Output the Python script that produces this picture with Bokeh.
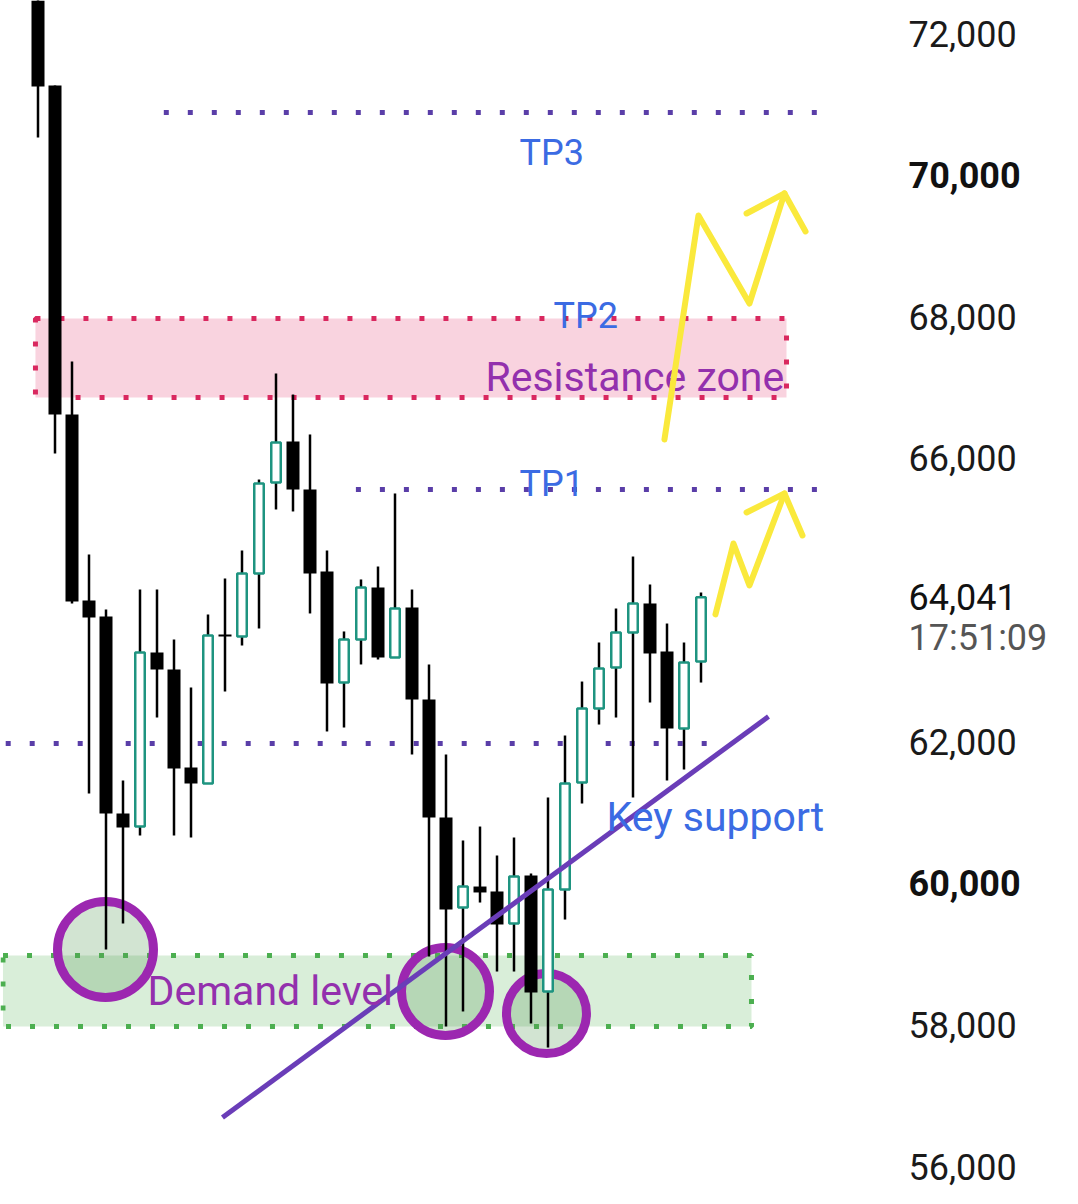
from bokeh.plotting import figure
from bokeh.models import Range1d
from bokeh.core.properties import value
from bokeh.embed import file_html
from bokeh.resources import INLINE
import numpy as np

# ---- data ----
opens = [72900, 71266, 66621, 63995, 63769, 60988, 60804, 63261, 63021, 61637,
         61412, 63515, 63487, 64376, 65661, 66240, 65562, 64405, 62837, 63445,
         64179, 63190, 63896, 62597, 60931, 59661, 59957, 59887, 59435, 60113,
         58475, 59915, 61426, 62470, 63049, 63543, 63953, 63275, 62188, 63134]
highs = [73000, 71266, 67369, 64645, 63868, 61454, 64150, 64150, 63445, 62767,
         63797, 64306, 64701, 65703, 67200, 66903, 66339, 64701, 63558, 64292,
         64475, 65506, 64150, 63092, 61821, 60607, 60804, 60395, 60649, 60141,
         61214, 62089, 62851, 63402, 63882, 64616, 64221, 63670, 63402, 64108]
lows = [70532, 66070, 63953, 61270, 59068, 59435, 60677, 62343, 60677, 60649,
        61412, 62710, 63360, 63600, 65280, 65252, 63812, 62146, 62202, 63092,
        63162, 63190, 61821, 58969, 57981, 58193, 59731, 58757, 58757, 58023,
        57684, 59491, 61129, 62244, 62343, 61214, 62555, 61454, 61609, 62837]
closes = [71252, 66621, 63981, 63755, 60988, 60790, 63261, 63021, 61623, 61412,
          63501, 63487, 64376, 65647, 66226, 65562, 64376, 62823, 63445, 64179,
          63190, 63882, 62597, 60931, 59633, 59957, 59873, 59421, 60099, 58461,
          59915, 61412, 62470, 63035, 63543, 63953, 63247, 62188, 63120, 64041]

tick_values = [72000, 70000, 68000, 66000, 62000, 60000, 58000, 56000]
tick_labels = ["72,000", "70,000", "68,000", "66,000", "62,000", "60,000", "58,000", "56,000"]
tick_bold = [False, True, False, False, False, True, False, False]
last_price = 64041
last_price_label = "64,041"
last_time_label = "17:51:09"
last_time_y = 63459

# levels / zones (data units)
tp3_level = 70885
tp1_level = 65562
mid_level = 61976
resistance_zone = (66861, 67976)
demand_zone = (57981, 58983)
key_support = ([10.85, 42.97], [56696, 62357])
circles_x = [3.97, 23.97, 29.91]
circles_y = [59068, 58475, 58164]
circles_d = [96, 88, 80]

arrow1_x = [36.85, 38.85, 41.85, 43.91]
arrow1_y = [66268, 69431, 68188, 69742]
head1_x = [41.68, 43.91, 45.15]
head1_y = [69459, 69742, 69205]
arrow2_x = [39.85, 40.91, 41.85, 43.91]
arrow2_y = [63798, 64800, 64207, 65506]
head2_x = [41.68, 43.91, 44.97]
head2_y = [65238, 65506, 64913]

# ---- figure ----
PX_PER_UNIT = 17.0
W, H = 1078, 1204
y_top = 72000 + 33 * 14.118
y_bot = 72000 - (H - 33) * 14.118
label_x = (908 - 37.5) / PX_PER_UNIT

p = figure(width=W, height=H, output_backend="svg", toolbar_location=None,
           x_range=Range1d(-37.5 / PX_PER_UNIT, (W - 37.5) / PX_PER_UNIT),
           y_range=Range1d(y_bot, y_top),
           x_axis_location=None, y_axis_location=None,
           min_border_left=0, min_border_top=0, min_border_bottom=0, min_border_right=0)
p.outline_line_color = None
p.grid.visible = False
p.background_fill_color = "white"
p.border_fill_color = "white"

DOT = "5 19"

# zones
p.quad(left=[-0.15], right=[44.03], bottom=[resistance_zone[0]], top=[resistance_zone[1]],
       fill_color="#f9d3df", line_color="#d9285f", line_width=5, line_dash=DOT)
p.quad(left=[-2.06], right=[41.97], bottom=[demand_zone[0]], top=[demand_zone[1]],
       fill_color="#d9eed9", line_color="#4caf50", line_width=5, line_dash=DOT)

# circles
p.scatter(circles_x, circles_y, size=circles_d, marker="circle",
          fill_color="#5e9e5e", fill_alpha=0.28, line_color="#9c27b0", line_width=9)

# dotted levels
for xs, lvl in [([7.4, 46.0], tp3_level), ([18.7, 46.0], tp1_level), ([-1.9, 40.0], mid_level)]:
    p.line(xs, [lvl, lvl], line_color="#5a3ea8", line_width=5, line_dash=DOT)

# candles
idx = np.arange(len(opens))
o = np.array(opens); c = np.array(closes); h = np.array(highs); l = np.array(lows)
inc = c > o
dec = ~inc
p.segment(idx, h, idx, l, line_color="black", line_width=2.5)
p.vbar(x=idx[dec], top=o[dec], bottom=c[dec], width=13 / PX_PER_UNIT,
       fill_color="black", line_color=None)
p.vbar(x=idx[inc], top=c[inc], bottom=o[inc], width=9.5 / PX_PER_UNIT,
       fill_color="white", line_color="#1e9480", line_width=2.5)

# key support line
p.line(key_support[0], key_support[1], line_color="#6a3db8", line_width=5)

# texts
blue = "#3b6be3"
purple = "#9330ad"
FONT = value("Roboto")
for x, y, t, col, fs in [
        (28.32, 70306, "TP3", blue, "36px"),
        (30.32, 68005, "TP2", blue, "36px"),
        (28.32, 65633, "TP1", blue, "36px"),
        (26.32, 67157, "Resistance zone", purple, "41px"),
        (33.44, 60932, "Key support", blue, "41px"),
        (6.44, 58489, "Demand level", purple, "41px")]:
    p.text([x], [y], text=[t], text_color=col, text_font=FONT, text_font_size=fs,
           text_baseline="middle", text_align="left")

# yellow arrows
yel = "#fae93c"
for xs, ys in [(arrow1_x, arrow1_y), (head1_x, head1_y), (arrow2_x, arrow2_y), (head2_x, head2_y)]:
    p.line(xs, ys, line_color=yel, line_width=6, line_join="round", line_cap="round")

# price scale labels
norm_v = [v for v, b in zip(tick_values, tick_bold) if not b]
norm_t = [t for t, b in zip(tick_labels, tick_bold) if not b]
bold_v = [v for v, b in zip(tick_values, tick_bold) if b]
bold_t = [t for t, b in zip(tick_labels, tick_bold) if b]
p.text([label_x] * len(norm_v), norm_v, text=norm_t, text_color="#1a1a1a", text_font=FONT,
       text_font_size="36px", text_baseline="middle", text_align="left")
p.text([label_x] * len(bold_v), bold_v, text=bold_t, text_color="#111111", text_font=FONT,
       text_font_size="36px", text_font_style="bold", text_baseline="middle", text_align="left")
p.text([label_x], [last_price], text=[last_price_label], text_color="#111111", text_font=FONT,
       text_font_size="36px", text_baseline="middle", text_align="left")
p.text([label_x], [last_time_y], text=[last_time_label], text_color="#555555", text_font=FONT,
       text_font_size="36px", text_baseline="middle", text_align="left")

open("out.html", "w").write(file_html(p, INLINE))
